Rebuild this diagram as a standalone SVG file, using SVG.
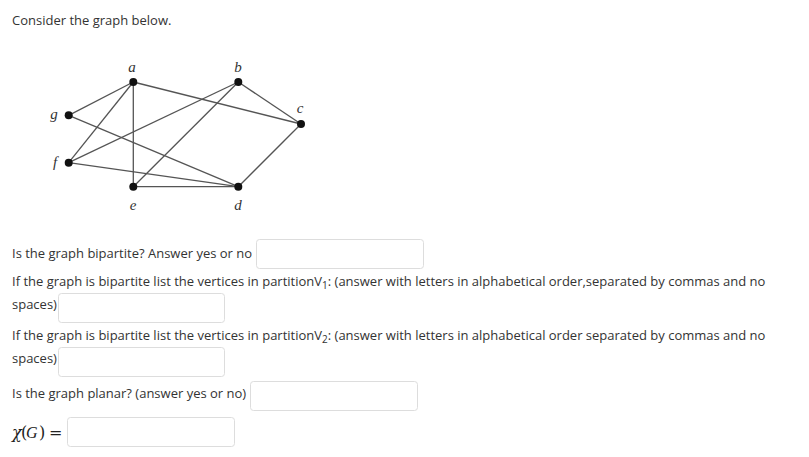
<svg xmlns="http://www.w3.org/2000/svg" width="809" height="457" viewBox="0 0 809 457">
<style>
.t{font-family:"Open Sans","Noto Sans",sans-serif;font-size:13px;fill:#333}
.lbl{font-family:"Liberation Serif",serif;font-style:italic;font-size:15px;fill:#333;text-anchor:middle}
.box{fill:#fff;stroke:#ddd;stroke-width:1}
.e{stroke:#555;stroke-width:1.3;fill:none}
.n{fill:#111}
.m{font-family:"DejaVu Serif","Liberation Serif",serif;font-size:16px;fill:#222}
</style>
<rect width="809" height="457" fill="#fff"/>
<text class="t" x="12" y="25">Consider the graph below.</text>
<g id="edges">
<line class="e" x1="133.3" y1="82" x2="68.7" y2="115.3"/>
<line class="e" x1="133.3" y1="82" x2="68.7" y2="162.7"/>
<line class="e" x1="133.3" y1="82" x2="133.3" y2="186.7"/>
<line class="e" x1="133.3" y1="82" x2="301" y2="124"/>
<line class="e" x1="238.3" y1="82" x2="68.7" y2="162.7"/>
<line class="e" x1="238.3" y1="82" x2="133.3" y2="186.7"/>
<line class="e" x1="238.3" y1="82" x2="301" y2="124"/>
<line class="e" x1="68.7" y1="115.3" x2="238.3" y2="186.7"/>
<line class="e" x1="68.7" y1="162.7" x2="238.3" y2="186.7"/>
<line class="e" x1="133.3" y1="186.7" x2="238.3" y2="186.7"/>
<line class="e" x1="301" y1="124" x2="238.3" y2="186.7"/>
</g>
<g id="a"><circle class="n" cx="133.3" cy="82" r="4"/><text class="lbl" x="132" y="72">a</text></g>
<g id="b"><circle class="n" cx="238.3" cy="82" r="4"/><text class="lbl" x="238" y="72">b</text></g>
<g id="c"><circle class="n" cx="301" cy="124" r="4"/><text class="lbl" x="300" y="113">c</text></g>
<g id="g"><circle class="n" cx="68.7" cy="115.3" r="4"/><text class="lbl" x="54" y="119">g</text></g>
<g id="f"><circle class="n" cx="68.7" cy="162.7" r="4"/><text class="lbl" x="55" y="167">f</text></g>
<g id="e"><circle class="n" cx="133.3" cy="186.7" r="4"/><text class="lbl" x="133" y="210">e</text></g>
<g id="d"><circle class="n" cx="238.3" cy="186.7" r="4"/><text class="lbl" x="238" y="210">d</text></g>

<text class="t" x="12" y="258">Is the graph bipartite? Answer yes or no</text>
<rect class="box" x="256.5" y="239.5" width="167" height="29" rx="3"/>
<text class="t" x="12" y="286">If the graph is bipartite list the vertices in partitionV<tspan font-size="10" dy="3">1</tspan><tspan dy="-3">: (answer with letters in alphabetical order,separated by commas and no</tspan></text>
<text class="t" x="12" y="309">spaces)</text>
<rect class="box" x="58.5" y="293.5" width="166" height="29" rx="3"/>
<text class="t" x="12" y="340">If the graph is bipartite list the vertices in partitionV<tspan font-size="10" dy="3">2</tspan><tspan dy="-3">: (answer with letters in alphabetical order separated by commas and no</tspan></text>
<text class="t" x="12" y="363">spaces)</text>
<rect class="box" x="58.5" y="347.5" width="166" height="29" rx="3"/>
<text class="t" x="12" y="398">Is the graph planar? (answer yes or no)</text>
<rect class="box" x="250.5" y="381.5" width="167" height="29" rx="3"/>
<text class="m" x="12" y="438"><tspan font-style="italic">χ</tspan><tspan x="21">(</tspan><tspan x="26" font-style="italic" font-family="Liberation Serif,serif">G</tspan><tspan x="39">)</tspan><tspan x="49">=</tspan></text>
<rect class="box" x="67.5" y="417.5" width="167" height="29" rx="3"/>
</svg>
